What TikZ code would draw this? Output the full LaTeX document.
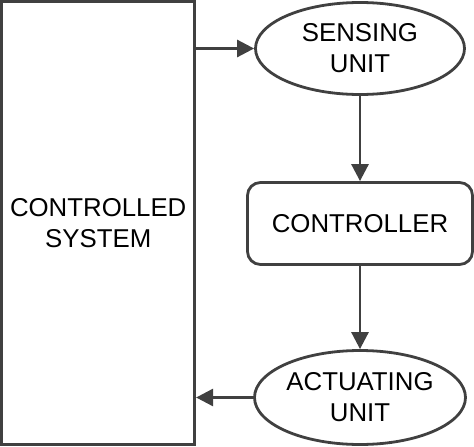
\documentclass[tikz,border=0pt]{standalone}
\usepackage{fontspec}
\setmainfont{Liberation Sans}
\usetikzlibrary{arrows.meta, shapes.geometric}
\definecolor{linegray}{HTML}{404040}

\begin{document}
\begin{tikzpicture}[
            x = 1pt, y = -1pt, % pixel-like units, y downwards
            > = {Triangle[length=17pt, width=17pt]}, % arrow head style
            line width = 2.8pt,
            draw = linegray,
            font = \fontsize{25.8}{31}\selectfont,
        ]

        \tikzstyle{every node}=[
            draw = linegray,
            line width = 2.8pt,
            align = center,
            inner sep = 0pt
        ]
        \tikzstyle{unit}=[ellipse, minimum width = 209pt, minimum height = 92pt]
        \tikzstyle{block}=[rectangle, rounded corners = 13pt]

        \useasboundingbox (0,0) rectangle (474,447);

        \node[block, minimum width = 193pt, minimum height = 443pt, rounded corners = 0pt] (sys) at (98.2,223.3) {CONTROLLED\\SYSTEM};
        \node[unit] (sense) at (360,48.5) {SENSING\\UNIT};
        \node[block, minimum width = 225pt, minimum height = 82pt] (ctrl) at (360,223.5) {CONTROLLER};
        \node[unit, minimum width = 211pt, minimum height = 94pt] (act) at (360,397.5) {ACTUATING\\UNIT};

        \draw[->, linegray] (sys.east |- sense.west) -- (sense.west);
        \draw[->, linegray] (sense.south) -- (ctrl.north);
        \draw[->, linegray] (ctrl.south) -- (act.north);
        \draw[->, linegray] (act.west) -- (sys.east |- act.west);
    \end{tikzpicture}
\end{document}
